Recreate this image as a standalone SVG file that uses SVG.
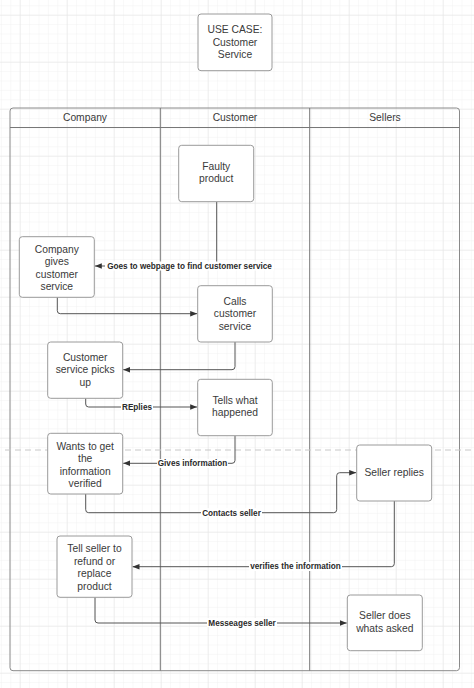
<svg xmlns="http://www.w3.org/2000/svg" width="474" height="688" viewBox="0 0 474 688">
<defs>
<pattern id="minor" x="19.7" y="14.7" width="9.4" height="9.4" patternUnits="userSpaceOnUse">
<path d="M0,0 H9.4 M0,0 V9.4" fill="none" stroke="#f1f1f1" stroke-width="1"/>
</pattern>
<pattern id="major" x="19.7" y="14.7" width="47" height="47" patternUnits="userSpaceOnUse">
<path d="M0,0 H47 M0,0 V47" fill="none" stroke="#e4e4e4" stroke-width="1"/>
</pattern>
<marker id="arr" viewBox="0 0 10 10" refX="10" refY="5" markerWidth="7" markerHeight="7" markerUnits="userSpaceOnUse" orient="auto">
<path d="M0,1 L10,5 L0,9 Z" fill="#333"/>
</marker>
<style>
.node{fill:#fff;stroke:#9a9a9a;stroke-width:1}
.nt{font-family:"Liberation Sans",Arial,sans-serif;font-size:10.3px;fill:#3a3a3a;text-anchor:middle}
.hd{font-family:"Liberation Sans",Arial,sans-serif;font-size:10.3px;fill:#3a3a3a;text-anchor:middle}
.conn{fill:none;stroke:#555;stroke-width:1;stroke-linejoin:round}
.lbl{font-family:"Liberation Sans",Arial,sans-serif;font-size:8.2px;font-weight:bold;fill:#2a2a2a;text-anchor:middle}
.lbg{fill:#fff}
</style>
</defs>
<rect width="474" height="688" fill="#fff"/>
<rect width="474" height="688" fill="url(#minor)"/>
<rect width="474" height="688" fill="url(#major)"/>

<g id="pool">
<rect x="10" y="108" width="449.5" height="562.7" rx="3" fill="none" stroke="#8a8a8a" stroke-width="1"/>
<line x1="10" y1="127.5" x2="459.5" y2="127.5" stroke="#777" stroke-width="1"/>
<line x1="160.3" y1="108" x2="160.3" y2="670.7" stroke="#777" stroke-width="1"/>
<line x1="309.7" y1="108" x2="309.7" y2="670.7" stroke="#777" stroke-width="1"/>
<text class="hd" x="85" y="121">Company</text>
<text class="hd" x="235" y="121">Customer</text>
<text class="hd" x="385" y="121">Sellers</text>
</g>

<line id="divider" x1="5" y1="450" x2="474" y2="450" stroke="#c8c8c8" stroke-width="1" stroke-dasharray="6,4"/>

<g id="title">
<rect class="node" x="198" y="14" width="74" height="56.7" rx="3"/>
<text class="nt" x="235" y="33">USE CASE:</text>
<text class="nt" x="235" y="45.5">Customer</text>
<text class="nt" x="235" y="57.5">Service</text>
</g>

<g id="connectors">
<path class="conn" d="M216.7,201.7 V266 H94.8" marker-end="url(#arr)"/>
<path class="conn" d="M57.3,297.3 V310.7 Q57.3,313.7 60.3,313.7 H197.2" marker-end="url(#arr)"/>
<path class="conn" d="M235,342 V366.7 Q235,369.7 232,369.7 H123.2" marker-end="url(#arr)"/>
<path class="conn" d="M85.7,398.3 V404 Q85.7,407 88.7,407 H197.2" marker-end="url(#arr)"/>
<path class="conn" d="M235,435.7 V460.3 Q235,463.3 232,463.3 H123.2" marker-end="url(#arr)"/>
<path class="conn" d="M85.7,494 V509.7 Q85.7,512.7 88.7,512.7 H333.7 Q336.7,512.7 336.7,509.7 V475.7 Q336.7,472.7 339.7,472.7 H356.2" marker-end="url(#arr)"/>
<path class="conn" d="M394.3,501 V563.7 Q394.3,566.7 391.3,566.7 H132.5" marker-end="url(#arr)"/>
<path class="conn" d="M95,597.3 V620 Q95,623 98,623 H346.8" marker-end="url(#arr)"/>

<rect class="lbg" x="105" y="261.5" width="169" height="9"/>
<text class="lbl" x="189.5" y="269">Goes to webpage to find customer service</text>
<rect class="lbg" x="121" y="402.5" width="32" height="9"/>
<text class="lbl" x="137" y="410">REplies</text>
<rect class="lbg" x="157" y="459" width="71" height="9"/>
<text class="lbl" x="192.5" y="466.3">Gives information</text>
<rect class="lbg" x="201" y="508.2" width="61" height="9"/>
<text class="lbl" x="231.5" y="515.6">Contacts seller</text>
<rect class="lbg" x="249" y="562" width="93" height="9"/>
<text class="lbl" x="295.5" y="569.4">verifies the information</text>
<rect class="lbg" x="207" y="618" width="70" height="9"/>
<text class="lbl" x="242" y="625.5">Messeages seller</text>
</g>

<g id="faulty">
<rect class="node" x="178.7" y="145.3" width="75" height="56.4" rx="3"/>
<text class="nt" x="216.2" y="169.5">Faulty</text>
<text class="nt" x="216.2" y="182">product</text>
</g>

<g id="company-gives">
<rect class="node" x="19.3" y="236.7" width="75" height="60.6" rx="3"/>
<text class="nt" x="56.8" y="252.8">Company</text>
<text class="nt" x="56.8" y="265.3">gives</text>
<text class="nt" x="56.8" y="277.8">customer</text>
<text class="nt" x="56.8" y="290.3">service</text>
</g>

<g id="calls">
<rect class="node" x="197.7" y="285.7" width="74.6" height="56.3" rx="3"/>
<text class="nt" x="235" y="304.8">Calls</text>
<text class="nt" x="235" y="317.2">customer</text>
<text class="nt" x="235" y="329.6">service</text>
</g>

<g id="picks-up">
<rect class="node" x="47.7" y="342" width="75" height="56.3" rx="3"/>
<text class="nt" x="85.2" y="360.5">Customer</text>
<text class="nt" x="85.2" y="373">service picks</text>
<text class="nt" x="85.2" y="385.5">up</text>
</g>

<g id="tells">
<rect class="node" x="197.7" y="379.3" width="74.6" height="56.4" rx="3"/>
<text class="nt" x="235" y="404">Tells what</text>
<text class="nt" x="235" y="416.3">happened</text>
</g>

<g id="wants">
<rect class="node" x="47.7" y="433.3" width="75" height="60.7" rx="3"/>
<text class="nt" x="85.2" y="449.5">Wants to get</text>
<text class="nt" x="85.2" y="462">the</text>
<text class="nt" x="85.2" y="474.5">information</text>
<text class="nt" x="85.2" y="487">verified</text>
</g>

<g id="seller-replies">
<rect class="node" x="356.7" y="445" width="75" height="56" rx="3"/>
<text class="nt" x="394.2" y="476">Seller replies</text>
</g>

<g id="tell-seller">
<rect class="node" x="57" y="536" width="75" height="61.3" rx="3"/>
<text class="nt" x="94.5" y="552">Tell seller to</text>
<text class="nt" x="94.5" y="564.5">refund or</text>
<text class="nt" x="94.5" y="577">replace</text>
<text class="nt" x="94.5" y="589.5">product</text>
</g>

<g id="seller-does">
<rect class="node" x="347.3" y="595" width="75" height="55.7" rx="3"/>
<text class="nt" x="384.8" y="619">Seller does</text>
<text class="nt" x="384.8" y="631.7">whats asked</text>
</g>
</svg>
